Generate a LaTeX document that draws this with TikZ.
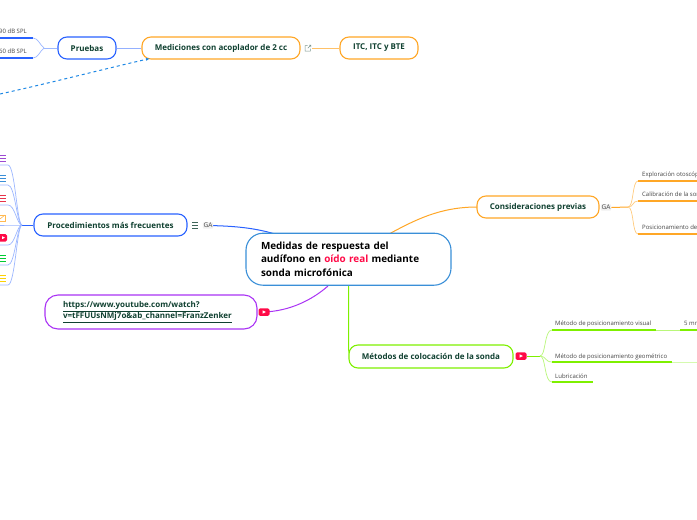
\documentclass[tikz,border=0pt]{standalone}
\usepackage{fontspec}
\usetikzlibrary{arrows.meta}
\setmainfont{Open Sans}
\definecolor{bluec}{HTML}{2962FF}
\definecolor{lblue}{HTML}{9DB8FF}
\definecolor{orangec}{HTML}{FFA726}
\definecolor{lorange}{HTML}{FFCC80}
\definecolor{purplec}{HTML}{AA33F5}
\definecolor{greenc}{HTML}{7EF000}
\definecolor{lgreen}{HTML}{B9F77A}
\definecolor{rootc}{HTML}{3A8FD8}
\definecolor{dashc}{HTML}{1E88E5}
\definecolor{textc}{HTML}{0F4030}
\definecolor{redc}{HTML}{FF0A47}
\definecolor{ink}{HTML}{444444}
\tikzset{
 x=1pt,y=-1pt,
 topic/.style={draw=#1,fill=white,line width=1.1pt,rounded corners=9pt,inner sep=0pt,text=textc,font=\fontsize{8}{11}\selectfont\bfseries,align=center},
 leaf/.style={inner sep=0pt,text=ink,font=\fontsize{6}{7}\selectfont,anchor=base west},
 conn/.style={draw=#1,line width=1pt},
 thin conn/.style={draw=#1,line width=.7pt},
 under/.style={draw=#1,line width=1.6pt},
 ga/.style={fill=gray!12,rounded corners=1pt,inner sep=.8pt,text=ink,font=\fontsize{6.5}{8}\selectfont},
 ytbox/.style={fill=redc,rounded corners=1.5pt,minimum width=11pt,minimum height=7.5pt,inner sep=0pt},
}
\newcommand{\menuicon}[3]{\draw[#3,line width=.8pt] (#1,#2-3) -- ++(6,0) (#1,#2) -- ++(6,0) (#1,#2+3) -- ++(6,0);}
\begin{document}
\begin{tikzpicture}
\path[use as bounding box] (0,0) rectangle (697,520);
\clip (0,0) rectangle (697,520);
\fill[white] (0,0) rectangle (697,520);

% free ends
\coordinate (tl1) at (0,38); \coordinate (tl2) at (0,58);
\coordinate (tj) at (44,48);
\coordinate (dashstart) at (0,94);
\coordinate (hub) at (22,225);
\coordinate (rootNW) at (275,234);
\coordinate (rootNE) at (389,234);
\coordinate (rootSW) at (328,286);
\coordinate (medS) at (150,58.5);
\foreach \n/\y in {1/165,2/185,3/205,4/225,5/245,6/265,7/285}{\coordinate (pe\n) at (8,\y);}
\coordinate (ch) at (628,207);
\coordinate (mh) at (540,356);

% main connectors under the nodes
\draw[conn=bluec] (208,225.5) .. controls (235,226) and (255,228) .. (rootNW);
\draw[conn=orangec] (rootNE) .. controls (415,220) and (440,207) .. (477,207);
\draw[conn=purplec] (264,312) .. controls (290,311) and (312,300) .. (rootSW);
\draw[conn=greenc] (348.5,286) -- (348.5,345) .. controls (348.5,352) and (349,356) .. (352,356);

% nodes
\node[topic=rootc,minimum width=205pt,minimum height=52pt,rounded corners=17pt,text=black,align=left,font=\fontsize{9.9}{13.6}\selectfont\bfseries,text width=175pt,yshift=.8pt] (root) at (348.5,260) {Medidas de respuesta del\\audífono en {\color{redc}oído real} mediante\\sonda microfónica};
\node[topic=bluec,minimum width=58pt,minimum height=22pt] (pru) at (87,48) {Pruebas};
\node[topic=orangec,minimum width=158pt,minimum height=22pt] (med) at (221,48) {Mediciones con acoplador de 2 cc};
\node[topic=orangec,minimum width=78pt,minimum height=22pt] (itc) at (379,48) {ITC, ITC y BTE};
\node[topic=bluec,minimum width=153pt,minimum height=22pt] (proc) at (110.5,225) {Procedimientos más frecuentes};
\node[topic=purplec,minimum width=212pt,minimum height=34pt,rounded corners=13pt,align=left,text width=176pt] (yt) at (151,312) {\underline{https://www.youtube.com/watch?}\\\underline{v=tFFUUsNMj7o\&ab\_channel=FranzZenker}};
\node[topic=orangec,minimum width=122pt,minimum height=22pt] (cons) at (538,207) {Consideraciones previas};
\node[topic=greenc,minimum width=164pt,minimum height=23pt] (met) at (431,356.5) {Métodos de colocación de la sonda};

% icon nodes
\node[ga] (gaL) at (208,225.5) {GA};
\node[ga] (gaR) at (606,207.5) {GA};
\node[ytbox] (ytM) at (521,356) {};
\fill[white] (519.5,354.3) -- (523,356) -- (519.5,357.7) -- cycle;
\node[ytbox] (ytY) at (264,312) {};
\fill[white] (262.5,310.3) -- (266,312) -- (262.5,313.7) -- cycle;
\node[inner sep=0pt,minimum size=8pt] (ext) at (308,48) {};
\draw[textc!55,line width=.5pt] (310.3,48.5) -- (310.3,51) -- (305,51) -- (305,45.5) -- (307.5,45.5) (307.8,48.2) -- (310.8,45.2) (309,45.2) -- (310.8,45.2) -- (310.8,47);
\node[inner sep=0pt,minimum width=8pt,minimum height=8pt] (mn) at (195,225) {};
\menuicon{192}{225}{textc!80}

\draw[conn=orangec!70] (ext.east) -- (itc.west);
\draw[conn=bluec!50] (pru.east) -- (med.west);
\draw[conn=orangec] (gaR.east) -- (ch);
\draw[conn=greenc] (ytM.east) -- (mh);

% Pruebas branches
\draw[conn=lblue] (pru.west) -- (tj);
\draw[thin conn=lblue] (tj) .. controls (40,45) and (38,38) .. (33,38);
\draw[thin conn=lblue] (tj) .. controls (40,51) and (38,58) .. (33,58);
\draw[under=bluec] (tl1) -- (33,38);
\draw[under=bluec] (tl2) -- (33,58);
\node[leaf] (a90) at (-1,33) {90 dB SPL};
\node[leaf] (a60) at (-1,53) {60 dB SPL};

% dashed relation
\draw[dashc,line width=1pt,dashed,-{Latex[length=4pt]}] (dashstart) .. controls (50,83) and (100,70) .. (medS);

% Procedimientos branches
\draw[conn=bluec] (proc.west) -- (hub);
\foreach \a in {165,185,205,245,265,285}{
  \draw[thin conn=lblue] (hub) .. controls (17,225) and (15,\a) .. (8,\a) -- (0,\a);
}
\draw[thin conn=lblue] (hub) -- (pe4) -- (0,225);
\menuicon{0}{158}{purplec!70!gray}
\menuicon{0}{178}{rootc}
\menuicon{0}{198}{red!55!purple!80}
\draw[orangec!80,line width=.7pt] (0,215) -- (5,215) -- (5,221) -- (0,221);
\draw[orangec!80,line width=.6pt] (0,219) -- (5,215);
\fill[redc,rounded corners=1.5pt] (-4,234) rectangle (7,241.5);
\fill[white] (2,236.2) -- (5,237.7) -- (2,239.2) -- cycle;
\menuicon{0}{258}{green!60!teal}
\menuicon{0}{278}{yellow!70!orange}

% Consideraciones branches
\coordinate (c1) at (638,181); \coordinate (c2) at (638,201); \coordinate (c3) at (638,234);
\draw[thin conn=lorange] (ch) .. controls (634,207) and (632,181) .. (c1);
\draw[thin conn=lorange] (ch) .. controls (634,207) and (632,201) .. (c2);
\draw[thin conn=lorange] (ch) .. controls (634,207) and (632,234) .. (c3);
\draw[under=orangec] (c1) -- (697,181);
\draw[under=orangec] (c2) -- (697,201);
\draw[under=orangec] (c3) -- (697,234);
\node[leaf] (c1t) at (642,176) {Exploración otoscópica};
\node[leaf] (c2t) at (642,196) {Calibración de la sonda};
\node[leaf] (c3t) at (642,229) {Posicionamiento de la sonda};

% Métodos branches
\coordinate (m1) at (552,330); \coordinate (m2) at (552,362); \coordinate (m3) at (552,382);
\draw[thin conn=lgreen] (mh) .. controls (546,356) and (544,330) .. (m1);
\draw[thin conn=lgreen] (mh) .. controls (546,356) and (545,362) .. (m2);
\draw[thin conn=lgreen] (mh) .. controls (546,356) and (544,382) .. (m3);
\draw[under=greenc] (m1) -- (656,330);
\draw[thin conn=lgreen] (656,330) -- (680,330);
\draw[under=greenc] (680,330) -- (697,330);
\draw[under=greenc] (m2) -- (672,362);
\draw[thin conn=lgreen!60] (672,362) -- (697,362);
\draw[under=greenc] (m3) -- (593,382);
\node[leaf] (m1t) at (555,325.5) {Método de posicionamiento visual};
\node[leaf] (m1b) at (684,325.5) {5 mm};
\node[leaf] (m2t) at (555,358) {Método de posicionamiento geométrico};
\node[leaf] (m3t) at (555,378) {Lubricación};
\end{tikzpicture}
\end{document}
